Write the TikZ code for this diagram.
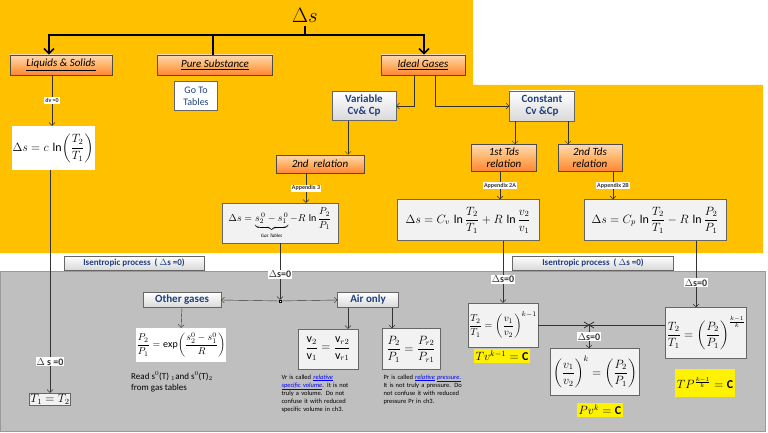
\documentclass[tikz,border=0pt]{standalone}
\usepackage{fontspec}
\setmainfont{Carlito}
\usepackage{amsmath}
\usetikzlibrary{arrows.meta,calc}
\definecolor{org}{HTML}{FFC000}
\definecolor{gr}{HTML}{BFBFBF}
\definecolor{bt}{HTML}{1F3F7F}
\begin{document}
\begin{tikzpicture}[x=1pt,y=-1pt,
 ob/.style={draw=black!70,line width=0.8pt,top color=orange!30!white,bottom color=orange!80!red!80,middle color=orange!60,font=\itshape\fontsize{11}{12}\selectfont,inner sep=1pt},
 wb/.style={draw=black!60,top color=white,bottom color=black!15,font=\bfseries\fontsize{11}{12}\selectfont,text=bt,align=center,inner sep=1pt},
 eq/.style={draw=black!60,fill=black!5,inner sep=1pt,font=\large},
 lab/.style={fill=white,font=\bfseries\fontsize{6}{7}\selectfont,inner sep=1pt},
 lab2/.style={fill=white,font=\bfseries\fontsize{10}{11}\selectfont,inner sep=1pt},
 yl/.style={fill=yellow,inner sep=2pt,font=\large},
 ar/.style={-{Straight Barb[length=3pt]},black!80},
 ln/.style={black!80}]
\useasboundingbox (0,0) rectangle (768,433);
\fill[org] (0,0) -- (473,0) -- (473,85) -- (763,85) -- (763,253) -- (0,253) -- cycle;
\fill[gr,draw=black!40] (0,271) rectangle (765,431);
% top
\node (ds) at (305,15) {\fontsize{20}{22}\selectfont$\Delta s$};
\node[ob,minimum width=102pt,minimum height=20pt] (liq) at (61,65) {\underline{Liquids \& Solids}};
\node[ob,minimum width=115pt,minimum height=20pt] (pure) at (215,65) {\underline{Pure Substance}};
\node[ob,minimum width=84pt,minimum height=20pt] (ideal) at (423,65) {\underline{Ideal Gases}};
\coordinate (bus) at (305,35);
\draw[line width=1.5pt] (ds.south) -- (bus);
\draw[line width=1.5pt,-{Straight Barb[length=5pt]}] (bus) -| (liq.north-|49,0);
\draw[line width=1.5pt,-{Straight Barb[length=5pt]}] (bus) -| (ideal.north-|424,0);
\draw[line width=1.5pt] (bus) -| (pure.north-|213,0);
\node[draw=black!60,fill=white,text=bt,font=\fontsize{10}{12}\selectfont,align=center,minimum width=43pt,minimum height=29pt,inner sep=1pt] (gt) at (196,96) {Go To\\Tables};
% liquids
\node[fill=white,inner sep=1pt,minimum width=83pt,minimum height=44pt,font=\large] (ceq) at (53,148) {$\Delta s = c\,\ln\!\left(\dfrac{T_2}{T_1}\right)$};
\draw[ar] (liq.south-|52,0) -- node[lab]{dv =0} (ceq.north-|52,0);
\node[eq] (t12) at (50,399) {$T_1=T_2$};
\draw[ar] (ceq.south-|50,0) -- node[pos=0.86,lab2]{$\Delta$ s =0} (t12.north);
% ideal gases
\node[wb,minimum width=64pt,minimum height=29pt] (var) at (364,106) {Variable\\Cv\& Cp};
\node[wb,minimum width=65pt,minimum height=30pt] (con) at (542,106) {Constant\\Cv \&Cp};
\draw[ar] (ideal.south-|414,0) |- (var.east);
\draw[ar] (ideal.south-|435,0) |- (con.west);
\node[ob,minimum width=88pt,minimum height=18pt] (rel2) at (320,164) {2nd\ \ relation};
\draw[ar] (var.south-|348,0) -- (rel2.north-|348,0);
\node[eq,font=\normalsize,minimum width=116pt,minimum height=40pt] (eq3) at (280,223) {$\Delta s = \underbrace{s_2^{\,0}-s_1^{\,0}}_{\text{\tiny\itshape Gas Tables}} - R\,\ln\dfrac{P_2}{P_1}$};
\draw[ar] (rel2.south-|306,0) -- node[lab]{Appendix 3} (eq3.north-|306,0);
\node[ob,align=center,minimum width=65pt,minimum height=27pt] (tds1) at (504,158) {1st Tds\\relation};
\node[ob,align=center,minimum width=64pt,minimum height=27pt] (tds2) at (590,158) {2nd Tds\\relation};
\draw[ar] (con.south-|515,0) -- (tds1.north-|515,0);
\draw[ar] (con.south-|568,0) -- (tds2.north-|568,0);
\node[eq,minimum width=142pt,minimum height=41pt] (eqA) at (468,220) {$\Delta s = C_v\,\ln\dfrac{T_2}{T_1} + R\,\ln\dfrac{v_2}{v_1}$};
\node[eq,minimum width=142pt,minimum height=41pt] (eqB) at (655,220) {$\Delta s = C_p\,\ln\dfrac{T_2}{T_1} - R\,\ln\dfrac{P_2}{P_1}$};
\draw[ar] (tds1.south-|500,0) -- node[lab]{Appendix 2A} (eqA.north-|500,0);
\draw[ar] (tds2.south-|613,0) -- node[lab]{Appendix 2B} (eqB.north-|613,0);
\node[wb,font=\bfseries\fontsize{9}{10}\selectfont,minimum width=140pt,minimum height=14pt] (is1) at (134,263) {Isentropic process\ \ ( $\Delta$s =0)};
\node[wb,font=\bfseries\fontsize{9}{10}\selectfont,minimum width=161pt,minimum height=14pt] (is2) at (593,263) {Isentropic process\ \ ( $\Delta$s =0)};
% gases
\node[draw,fill=white,inner sep=1pt] (j) at (280,301) {};
\draw[ar] (eq3.south-|280,0) -- node[pos=0.55,lab2]{$\Delta$s=0} (j);
\node[wb,minimum width=78pt,minimum height=15pt] (oth) at (182,300) {Other gases};
\node[wb,minimum width=61pt,minimum height=15pt] (air) at (368,300) {Air only};
\draw[ar] (j) -- (oth.east);
\draw[ar] (j) -- (air.west);
\node[fill=white,inner sep=1pt,minimum width=89pt,minimum height=34pt] (oeq) at (181,345) {$\dfrac{P_2}{P_1}=\exp\!\left(\dfrac{s_2^0-s_1^0}{R}\right)$};
\draw[ar] (oth.south) -- (oeq.north);
\node[font=\fontsize{9}{11}\selectfont,align=left] (rd) at (172,382) {Read s$^0$(T) $_1$and s$^0$(T)$_2$\\ from gas tables};
\node[eq,minimum width=60pt,minimum height=40pt] (veq) at (328,349) {$\dfrac{\mathrm{v}_2}{\mathrm{v}_1}=\dfrac{\mathrm{v}_{r2}}{\mathrm{v}_{r1}}$};
\node[eq,minimum width=58pt,minimum height=41pt] (peq) at (411,349) {$\dfrac{P_2}{P_1}=\dfrac{P_{r2}}{P_{r1}}$};
\draw[ar] (air.south-|348,0) -- (veq.north-|348,0);
\draw[ar] (air.south-|392,0) -- (peq.north-|392,0);
\node[font=\fontsize{6.5}{8}\selectfont,align=left,text width=72pt,anchor=north west] (vr) at (278,371) {Vr is called \textcolor{blue}{\underline{\itshape relative}} \textcolor{blue}{\underline{\itshape specific volume}}. It is not truly a volume. Do not confuse it with reduced specific volume in ch3.};
\node[font=\fontsize{6.5}{8}\selectfont,align=left,text width=80pt,anchor=north west] (pr) at (380,371) {Pr is called \textcolor{blue}{\underline{\itshape relative}} \textcolor{blue}{\underline{\itshape pressure.}} It is not truly a pressure. Do not confuse it with reduced pressure Pr in ch3.};
% right
\node[eq,minimum width=68pt,minimum height=44pt,font=\normalsize] (r1) at (503,325) {$\dfrac{T_2}{T_1}=\left(\dfrac{v_1}{v_2}\right)^{k-1}$};
\draw[ar] (eqA.south-|503,0) -- node[pos=0.62,lab2]{$\Delta$s=0} (r1.north-|503,0);
\node[yl] (y1) at (502,356) {$Tv^{k-1}=\mathbf{C}$};
\node[eq,minimum width=80pt,minimum height=51pt] (r3) at (706,333) {$\dfrac{T_2}{T_1}=\left(\dfrac{P_2}{P_1}\right)^{\frac{k-1}{k}}$};
\draw[ar] (eqB.south-|696,0) -- node[pos=0.63,lab2]{$\Delta$s=0} (r3.north-|696,0);
\node[yl,minimum height=28pt] (y3) at (705,383) {$TP^{\frac{k-1}{k}}=\mathbf{C}$};
\node[eq,minimum width=89pt,minimum height=47pt] (r2) at (595,372) {$\left(\dfrac{v_1}{v_2}\right)^{k}=\left(\dfrac{P_2}{P_1}\right)$};
\node[yl] (y2) at (600,410) {$Pv^{k}=\mathbf{C}$};
\coordinate (x) at (589,325);
\draw[ln] (r1.east|-x) -- (r3.west|-x);
\draw[ln,thick] ($(x)+(-5,-3)$) -- ++(10,6) ($(x)+(-5,3)$) -- ++(10,-6);
\draw[ar] (x) -- node[lab2]{$\Delta$s=0} (r2.north-|x);
\end{tikzpicture}
\end{document}
